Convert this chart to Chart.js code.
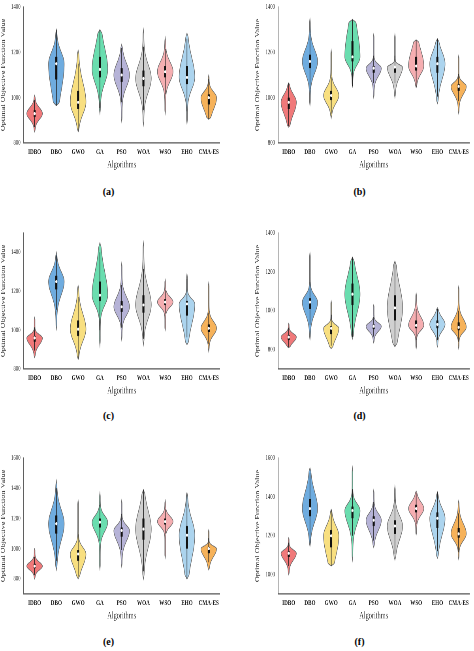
<!DOCTYPE html>
<html><head><meta charset="utf-8">
<script src="https://cdn.jsdelivr.net/npm/chart.js@4"></script>
<style>
body{margin:0;background:#fff;width:474px;height:651px;position:relative;overflow:hidden;font-family:"Liberation Serif",serif}
.p{position:absolute;width:237px;height:175px}
.cap{position:absolute;width:237px;text-align:center;font-size:10px;font-weight:bold;font-family:"Liberation Serif",serif}
</style></head><body>
<script>
const algorithms=["IDBO","DBO","GWO","GA","PSO","WOA","WSO","EHO","CMA-ES"];
const colors=["#ee6a6b","#5fa3dc","#f7dc72","#5ad9a6","#aeabd3","#cbcbcb","#f4a5a8","#a3cfec","#f5aa48"];
// each panel: min, q1, median, q3, max per algorithm
const minA=[850,965,850,930,895,880,930,885,905],q1A=[915,1080,950,1090,1070,1050,1090,1060,970],medA=[930,1150,980,1125,1100,1085,1115,1090,1000],q3A=[945,1180,1030,1180,1130,1120,1140,1140,1015],maxA=[1010,1300,1210,1300,1235,1300,1265,1285,1100];
const minB=[870,965,910,1050,1000,1000,1045,975,930],q1B=[950,1130,990,1160,1110,1110,1120,1110,1030],medB=[980,1160,1010,1180,1130,1135,1140,1150,1050],q3B=[1000,1190,1030,1250,1140,1140,1180,1180,1060],maxB=[1065,1350,1210,1345,1280,1280,1255,1260,1185];
const minC=[860,1005,850,920,950,925,1000,925,890],q1C=[940,1210,970,1150,1095,1090,1130,1075,990],medC=[960,1250,1005,1180,1120,1130,1145,1135,1010],q3C=[970,1280,1050,1250,1150,1180,1160,1150,1030],maxC=[1065,1400,1230,1450,1345,1450,1260,1290,1245];
const minD=[810,850,805,855,835,815,805,815,805],q1D=[850,1010,880,1030,905,950,910,910,900],medD=[865,1045,910,1085,920,1015,925,930,915],q3D=[875,1065,920,1140,930,1080,950,950,940],maxD=[935,1300,1050,1275,1030,1255,1090,1015,1125];
const minE=[800,860,800,865,880,800,940,800,860],q1E=[870,1100,920,1140,1080,1060,1160,1000,970],medE=[885,1165,965,1175,1120,1130,1180,1090,1000],q3E=[900,1220,990,1200,1140,1200,1200,1150,1010],maxE=[1000,1450,1320,1370,1320,1390,1320,1370,1125];
const minF=[1000,1145,1045,1075,1140,1075,1205,1085,1080],q1F=[1090,1300,1140,1290,1250,1210,1320,1240,1190],medF=[1110,1340,1200,1330,1280,1250,1340,1290,1210],q3F=[1120,1390,1230,1350,1300,1280,1360,1320,1240],maxF=[1190,1550,1335,1550,1435,1455,1430,1425,1380];
const panels=[
 {id:"a",mn:minA,q1:q1A,md:medA,q3:q3A,mx:maxA,yMin:800,yMax:1400,step:200},
 {id:"b",mn:minB,q1:q1B,md:medB,q3:q3B,mx:maxB,yMin:800,yMax:1400,step:200},
 {id:"c",mn:minC,q1:q1C,md:medC,q3:q3C,mx:maxC,yMin:800,yMax:1500,step:200},
 {id:"d",mn:minD,q1:q1D,md:medD,q3:q3D,mx:maxD,yMin:700,yMax:1400,step:200},
 {id:"e",mn:minE,q1:q1E,md:medE,q3:q3E,mx:maxE,yMin:700,yMax:1600,step:200},
 {id:"f",mn:minF,q1:q1F,md:medF,q3:q3F,mx:maxF,yMin:900,yMax:1600,step:200}
];
const tops=[0,226,451],caps=[186,410,636];
const violin={id:"violin",beforeDatasetsDraw(ch){
 const P=ch.config.options.plugins.violin.p,ctx=ch.ctx,xs=ch.scales.x,ys=ch.scales.y;
 const half=(xs.getPixelForValue(1)-xs.getPixelForValue(0))*0.36;
 for(let i=0;i<algorithms.length;i++){
  const cx=xs.getPixelForValue(i),mn=P.mn[i],mx=P.mx[i],md=P.md[i];
  const sl=Math.max((md-P.q1[i])*1.7,10),sh=Math.max((P.q3[i]-md)*1.7,10);
  const pts=[];const N=60;
  for(let k=0;k<=N;k++){const v=mn+(mx-mn)*k/N;const s=v<md?sl:sh;
   let w=Math.exp(-0.5*Math.pow((v-md)/s,2));w=0.05+0.95*w;
   const edge=Math.min(1,(v-mn)/(0.04*(mx-mn)+1e-9),(mx-v)/(0.04*(mx-mn)+1e-9));
   pts.push([ys.getPixelForValue(v),half*w*Math.max(0,edge)]);}
  ctx.save();ctx.beginPath();
  pts.forEach((p,k)=>{k?ctx.lineTo(cx+p[1],p[0]):ctx.moveTo(cx+p[1],p[0]);});
  for(let k=pts.length-1;k>=0;k--)ctx.lineTo(cx-pts[k][1],pts[k][0]);
  ctx.closePath();ctx.fillStyle=colors[i];ctx.globalAlpha=0.9;ctx.fill();
  ctx.globalAlpha=1;ctx.strokeStyle="#6b6b6b";ctx.lineWidth=0.7;ctx.stroke();
  const iqr=P.q3[i]-P.q1[i];
  const lo=Math.max(mn,P.q1[i]-1.5*iqr),hi=Math.min(mx,P.q3[i]+1.5*iqr);
  ctx.strokeStyle="#222";ctx.lineWidth=0.8;ctx.beginPath();ctx.moveTo(cx,ys.getPixelForValue(lo));ctx.lineTo(cx,ys.getPixelForValue(hi));ctx.stroke();
  ctx.lineWidth=2.6;ctx.strokeStyle="#111";ctx.beginPath();ctx.moveTo(cx,ys.getPixelForValue(P.q1[i]));ctx.lineTo(cx,ys.getPixelForValue(P.q3[i]));ctx.stroke();
  ctx.restore();
 }}};
panels.forEach((P,j)=>{
 const col=j%2,row=Math.floor(j/2);
 const d=document.createElement("div");d.className="p";d.style.left=(col*237)+"px";d.style.top=tops[row]+"px";
 const c=document.createElement("canvas");d.appendChild(c);document.body.appendChild(d);
 const cp=document.createElement("div");cp.className="cap";cp.style.left=(col*237+(col?4:-10))+"px";cp.style.top=caps[row]+"px";cp.textContent="("+P.id+")";document.body.appendChild(cp);
 new Chart(c,{type:"line",data:{labels:algorithms,datasets:[{data:P.md,showLine:false,pointRadius:1.3,pointBackgroundColor:"#fff",pointBorderWidth:0}]},
  plugins:[violin],
  options:{responsive:false,animation:false,devicePixelRatio:2,
   layout:{padding:{top:6,left:col?22:0,right:col?6:22,bottom:0}},
   plugins:{legend:{display:false},tooltip:{enabled:false},violin:{p:P}},
   scales:{
    x:{offset:true,grid:{display:false,drawTicks:true,tickLength:3},border:{color:"#555"},
     ticks:{color:"#222",font:{family:"Liberation Serif",size:6.5,weight:"bold"},maxRotation:0,autoSkip:false,padding:1},
     title:{display:true,text:"Algorithms",color:"#333",font:{family:"Liberation Serif",size:8},padding:{top:1}}},
    y:{min:P.yMin,max:P.yMax,afterFit(s){s.width=30;},grid:{display:false,tickLength:3},border:{color:"#555"},
     afterBuildTicks(s){s.ticks=[];for(let v=Math.ceil(P.yMin/P.step)*P.step;v<=P.yMax;v+=P.step)s.ticks.push({value:v});},
     ticks:{color:"#333",font:{family:"Liberation Serif",size:6},padding:1,callback:v=>String(v)},
     title:{display:true,text:"Optimal Objective Function Value",color:"#333",font:{family:"Liberation Serif",size:7},padding:0}}
   }}});
 c.style.width="237px";c.style.height="175px";
});
</script>
</body></html>
